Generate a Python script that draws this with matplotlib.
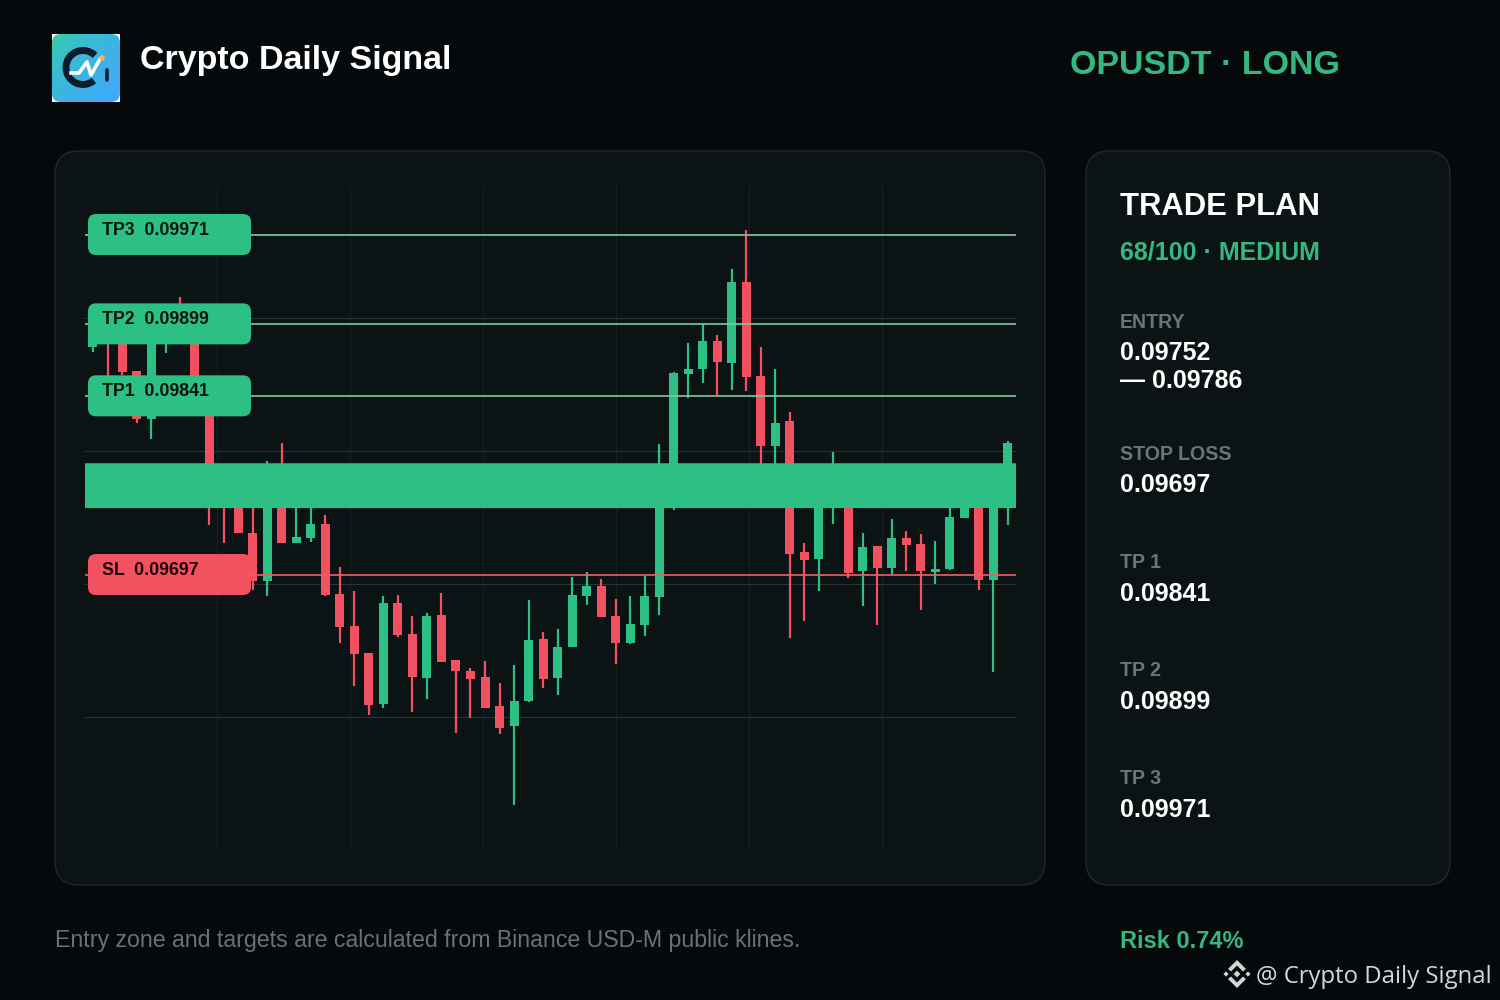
import numpy as np
import matplotlib
matplotlib.use("Agg")
import matplotlib.pyplot as plt
from matplotlib.patches import FancyBboxPatch, Polygon, Arc, Circle

# candle prices in units of 0.00001
opens = [9880.7, 9910.6, 9898.5, 9861.4, 9822.7, 9886.4, 9910.6, 9902.5, 9838.0, 9781.6,
         9765.5, 9730.8, 9692.2, 9773.6, 9722.8, 9726.8, 9738.1, 9681.7, 9655.9, 9634.1,
         9593.0, 9674.4, 9649.5, 9614.0, 9664.8, 9628.5, 9619.6, 9614.8, 9591.4, 9575.3,
         9595.5, 9645.4, 9614.0, 9639.0, 9680.1, 9688.1, 9664.0, 9642.2, 9656.7, 9679.3,
         9761.5, 9859.0, 9863.0, 9885.6, 9867.8, 9933.1, 9857.4, 9801.0, 9821.1, 9715.5,
         9709.9, 9751.8, 9773.6, 9700.2, 9720.4, 9702.6, 9726.8, 9722.0, 9699.4, 9701.8,
         9742.9, 9773.6, 9693.0, 9761.5]
highs = [9906.5, 9914.6, 9904.1, 9861.4, 9898.5, 9906.5, 9921.0, 9909.0, 9842.1, 9785.6,
         9773.6, 9757.4, 9788.9, 9803.4, 9761.5, 9757.4, 9745.4, 9703.4, 9684.1, 9634.1,
         9680.1, 9680.9, 9664.0, 9666.4, 9682.5, 9628.5, 9622.1, 9627.7, 9610.0, 9624.5,
         9676.9, 9651.1, 9653.5, 9695.4, 9699.4, 9693.8, 9677.7, 9680.1, 9696.2, 9802.6,
         9860.6, 9884.0, 9899.3, 9890.4, 9943.6, 9975.0, 9880.7, 9863.0, 9828.4, 9722.8,
         9781.6, 9796.1, 9781.6, 9730.8, 9720.4, 9742.1, 9732.5, 9730.0, 9724.4, 9757.4,
         9773.6, 9781.6, 9773.6, 9805.0]
lows = [9876.7, 9854.1, 9858.2, 9819.5, 9806.6, 9875.9, 9884.8, 9838.0, 9737.3, 9722.8,
        9730.8, 9684.9, 9680.1, 9722.8, 9722.8, 9723.6, 9680.1, 9642.2, 9607.5, 9584.2,
        9589.8, 9647.0, 9586.6, 9597.1, 9626.9, 9569.7, 9581.8, 9589.8, 9568.9, 9511.6,
        9594.7, 9605.9, 9600.3, 9639.0, 9672.8, 9663.2, 9625.3, 9641.4, 9647.8, 9664.8,
        9749.4, 9839.6, 9851.7, 9842.1, 9846.1, 9845.3, 9773.6, 9773.6, 9646.2, 9659.9,
        9684.1, 9738.1, 9694.6, 9672.0, 9656.7, 9697.8, 9700.2, 9668.8, 9689.7, 9701.0,
        9742.9, 9684.9, 9618.8, 9737.3]
closes = [9898.5, 9886.4, 9860.6, 9822.7, 9890.4, 9898.5, 9890.4, 9842.1, 9757.4, 9757.4,
          9730.8, 9692.2, 9773.6, 9722.8, 9727.6, 9738.1, 9680.5, 9655.1, 9633.3, 9592.2,
          9674.4, 9648.6, 9614.8, 9664.0, 9626.9, 9619.6, 9613.2, 9589.8, 9573.7, 9595.5,
          9644.6, 9613.2, 9639.0, 9680.9, 9688.1, 9663.2, 9642.2, 9657.5, 9680.1, 9773.6,
          9859.8, 9863.0, 9885.6, 9868.7, 9933.1, 9856.6, 9801.0, 9819.5, 9713.9, 9709.1,
          9773.6, 9761.5, 9698.6, 9719.6, 9702.6, 9726.8, 9721.2, 9700.2, 9701.8, 9743.7,
          9765.5, 9693.0, 9765.5, 9803.4]

entry_low = 0.09752
entry_high = 0.09786
stop_loss = 0.09697
tp1 = 0.09841
tp2 = 0.09899
tp3 = 0.09971

plan_labels = ["STOP LOSS", "TP 1", "TP 2", "TP 3"]
plan_values = ["0.09697", "0.09841", "0.09899", "0.09971"]

BG = "#05090b"
PANEL = "#0c1314"
EDGE = "#202929"
GREEN = "#2dc084"
TXTGREEN = "#35b780"
RED = "#f3515f"
SANS = "Liberation Sans"

fig = plt.figure(figsize=(15, 10), dpi=100, facecolor=BG)

# page layer in pixel coords
bg = fig.add_axes([0, 0, 1, 1], zorder=0)
bg.set_xlim(0, 1500)
bg.set_ylim(1000, 0)
bg.axis("off")


def panel(a, x0, y0, x1, y1):
    a.add_patch(FancyBboxPatch((x0 + 24, y0 + 24), x1 - x0 - 48, y1 - y0 - 48,
                               boxstyle="round,pad=24,rounding_size=24",
                               fc=PANEL, ec=EDGE, lw=1))


panel(bg, 55, 151, 1045, 885)
panel(bg, 1086, 151, 1450, 885)

# candles
ax = fig.add_axes([85 / 1500, 1 - 850 / 1000, 931 / 1500, 665 / 1000], zorder=1)
ax.patch.set_alpha(0)
ax.axis("off")
o = np.array(opens) / 1e5
h = np.array(highs) / 1e5
l = np.array(lows) / 1e5
c = np.array(closes) / 1e5
idx = np.arange(len(o))
ax.set_xlim(-0.55, 63.57)
ax.set_ylim(0.094754, 0.100113)

for k in range(1, 7):
    ax.axvline(k * 64.12 / 7 - 0.6, color="#182121", lw=0.8, zorder=1)
for k in range(1, 5):
    ax.axhline(0.100113 - k * (0.100113 - 0.094754) / 5, color="#2b3434", lw=0.8, zorder=1)

colors = [GREEN if c[i] >= o[i] else RED for i in idx]
ax.vlines(idx, l, h, colors=colors, lw=1.6, zorder=2)
ax.bar(idx, np.abs(c - o), bottom=np.minimum(o, c), width=0.62, color=colors, zorder=3)

band = ax.axhspan(entry_low, entry_high, fc=GREEN, ec=GREEN, lw=1.9, zorder=4)
band.set_snap(False)
for lvl in [tp1, tp2, tp3]:
    ax.axhline(lvl, color="#7fc79c", lw=1.45, alpha=0.85, zorder=5)
ax.axhline(stop_loss, color="#ea5f6a", lw=1.45, alpha=0.85, zorder=5)

# top layer: labels and text
top = fig.add_axes([0, 0, 1, 1], zorder=2)
top.patch.set_alpha(0)
top.set_xlim(0, 1500)
top.set_ylim(1000, 0)
top.axis("off")


def pill(name, price, col, txtcol):
    y = fig.bbox.height - ax.transData.transform((0, price))[1] - 0.5
    top.add_patch(FancyBboxPatch((96, y - 12.5), 147, 25, boxstyle="round,pad=8,rounding_size=8",
                                 fc=col, ec="none"))
    top.text(102, y - 4.5, f"{name}  {price:.5f}", color=txtcol, fontsize=12.8, weight="bold",
             family=SANS, va="center", ha="left")


pill("TP3", tp3, GREEN, "#07140f")
pill("TP2", tp2, GREEN, "#07140f")
pill("TP1", tp1, GREEN, "#07140f")
pill("SL", stop_loss, RED, "#1c0508")

# header
top.text(140, 61, "Crypto Daily Signal", color="white", fontsize=24.5, weight="bold",
         family=SANS, va="center")
top.text(1070, 66, "OPUSDT · LONG", color=TXTGREEN, fontsize=24.5, weight="bold",
         family=SANS, va="center")

# logo
top.add_patch(plt.Rectangle((52, 34), 68, 68, fc="white", ec="none"))
grad = (np.linspace(0, 1, 64)[:, None] * 0.5 + np.linspace(0, 1, 64)[None, :] * 0.5) ** 0.45
rgb = np.zeros((64, 64, 3))
rgb[..., 0] = 0.20 + 0.05 * grad
rgb[..., 1] = 0.84 - 0.18 * grad
rgb[..., 2] = 0.55 + 0.45 * grad
im = top.imshow(rgb, extent=(52, 120, 102, 34), aspect="auto", zorder=2, interpolation="bilinear")
clip = FancyBboxPatch((61, 43), 50, 50, boxstyle="round,pad=9,rounding_size=9",
                      fc="none", ec="none", transform=top.transData)
top.add_patch(clip)
im.set_clip_path(clip)
top.set_xlim(0, 1500)
top.set_ylim(1000, 0)
top.add_patch(Arc((83, 67.5), 34, 34, theta1=50, theta2=315, color="#0d1b2c", lw=5, zorder=3))
top.plot([71, 79, 87, 91, 100], [73, 73, 62, 75, 59], color="white", lw=2.6, zorder=4)
top.add_patch(Circle((102, 58), 2.8, fc="#f5b45a", ec="none", zorder=5))
top.plot([107, 107], [70, 80], color="#0d1b2c", lw=2.6, zorder=4, solid_capstyle="round")

# trade plan
top.text(1120, 207, "TRADE PLAN", color="white", fontsize=22.3, weight="bold", family=SANS, va="center")
top.text(1120, 253, "68/100 · MEDIUM", color=TXTGREEN, fontsize=18, weight="bold", family=SANS, va="center")
top.text(1120, 323, "ENTRY", color="#6d7474", fontsize=14.1, weight="bold", family=SANS, va="center")
top.text(1120, 353.5, f"{entry_low:.5f}", color="white", fontsize=18, weight="bold", family=SANS, va="center")
top.text(1120, 381.5, f"— {entry_high:.5f}", color="white", fontsize=18, weight="bold", family=SANS, va="center")
for lab, val, y in zip(plan_labels, plan_values, [454, 563, 671, 779]):
    top.text(1120, y, lab, color="#6d7474", fontsize=14.1, weight="bold", family=SANS, va="center")
    top.text(1120, y + 31, val, color="white", fontsize=18, weight="bold", family=SANS, va="center")

# footer
top.text(55, 940, "Entry zone and targets are calculated from Binance USD-M public klines.",
         color="#6b7272", fontsize=16.7, family=SANS, va="center")
top.text(1120, 941, "Risk 0.74%", color=TXTGREEN, fontsize=17, weight="bold", family=SANS, va="center")
top.text(1256, 977, "@ Crypto Daily Signal", color="#d6d6d6", fontsize=17.2, family="Open Sans", va="center")

# watermark icon
ic = (1237, 974)
for dx, dy, s in [(-11, 0, 2.6), (11, 0, 2.6), (0, 0, 3.4)]:
    top.add_patch(Polygon([(ic[0] + dx - s, ic[1] + dy), (ic[0] + dx, ic[1] + dy - s),
                           (ic[0] + dx + s, ic[1] + dy), (ic[0] + dx, ic[1] + dy + s)],
                          fc="#d6d6d6", ec="none"))
for sgn in (-1, 1):
    top.add_patch(Polygon([(ic[0] - 9, ic[1] + sgn * 5), (ic[0], ic[1] + sgn * 14), (ic[0] + 9, ic[1] + sgn * 5),
                           (ic[0] + 6, ic[1] + sgn * 2.5), (ic[0], ic[1] + sgn * 8.5), (ic[0] - 6, ic[1] + sgn * 2.5)],
                          fc="#d6d6d6", ec="none"))

fig.savefig("out.png", dpi=100, facecolor=BG)
